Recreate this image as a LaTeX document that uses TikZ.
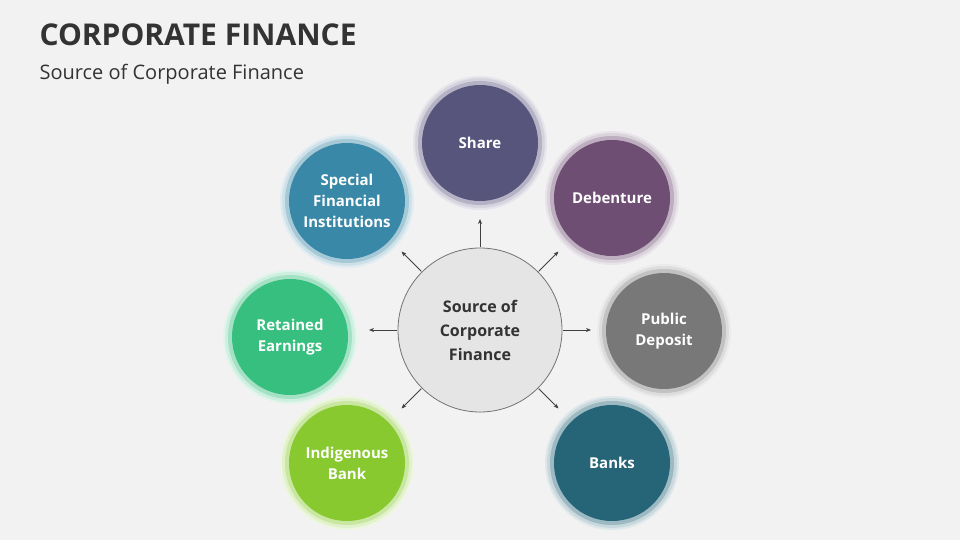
\documentclass[tikz,border=0pt]{standalone}
\usepackage{fontspec}
\setmainfont{Open Sans}
\usetikzlibrary{arrows.meta,calc}
\definecolor{bg}{HTML}{F2F2F2}
\definecolor{cshare}{HTML}{58557C}
\definecolor{cdeb}{HTML}{6E4E73}
\definecolor{cpub}{HTML}{787878}
\definecolor{cbank}{HTML}{266478}
\definecolor{cind}{HTML}{87C92E}
\definecolor{cret}{HTML}{37BF7F}
\definecolor{cspe}{HTML}{3A88A7}
\tikzset{
  lbl/.style={text=white,font=\fontsize{15}{21}\selectfont\bfseries,align=center},
  arr/.style={-{Stealth[length=5pt,width=4pt]},draw=black!75,line width=0.8pt}
}
\newcommand{\bub}[4]{%
  \fill[#3!25,draw=#3!15,line width=2pt] (#1) circle (66);
  \fill[#3!45] (#1) circle (62);
  \node[circle,fill=#3,minimum size=116pt,inner sep=0pt,lbl] (#2) at (#1) {#4};}
\begin{document}
\begin{tikzpicture}[x=1pt,y=-1pt]
\fill[bg] (0,0) rectangle (960,540);
\useasboundingbox (0,0) rectangle (960,540);
\node[anchor=west,font=\fontsize{30}{34}\selectfont\bfseries,text=black!80] (title) at (36,35) {CORPORATE FINANCE};
\node[anchor=west,font=\fontsize{20}{24}\selectfont,text=black!80] (sub) at (36,74) {Source of Corporate Finance};
\node[circle,fill=black!10,draw=black!55,line width=0.8pt,minimum size=164pt,inner sep=0pt,font=\fontsize{16}{24}\selectfont\bfseries,text=black!80,align=center] (c) at (480,330) {Source of\\Corporate\\Finance};
\bub{480,143}{share}{cshare}{Share}
\bub{612,198}{deb}{cdeb}{Debenture}
\bub{664,331}{pub}{cpub}{Public\\Deposit}
\bub{612,463}{bank}{cbank}{Banks}
\bub{347,463}{ind}{cind}{Indigenous\\Bank}
\bub{290,337}{ret}{cret}{Retained\\Earnings}
\bub{347,201}{spe}{cspe}{Special\\Financial\\Institutions}
\foreach \a in {-90,-45,0,45,135,180,-135}{
  \coordinate (s\a) at ($(c)+(\a:83)$);
  \coordinate (e\a) at ($(c)+(\a:111)$);
  \draw[arr] (s\a) -- (e\a);
}
\end{tikzpicture}
\end{document}
